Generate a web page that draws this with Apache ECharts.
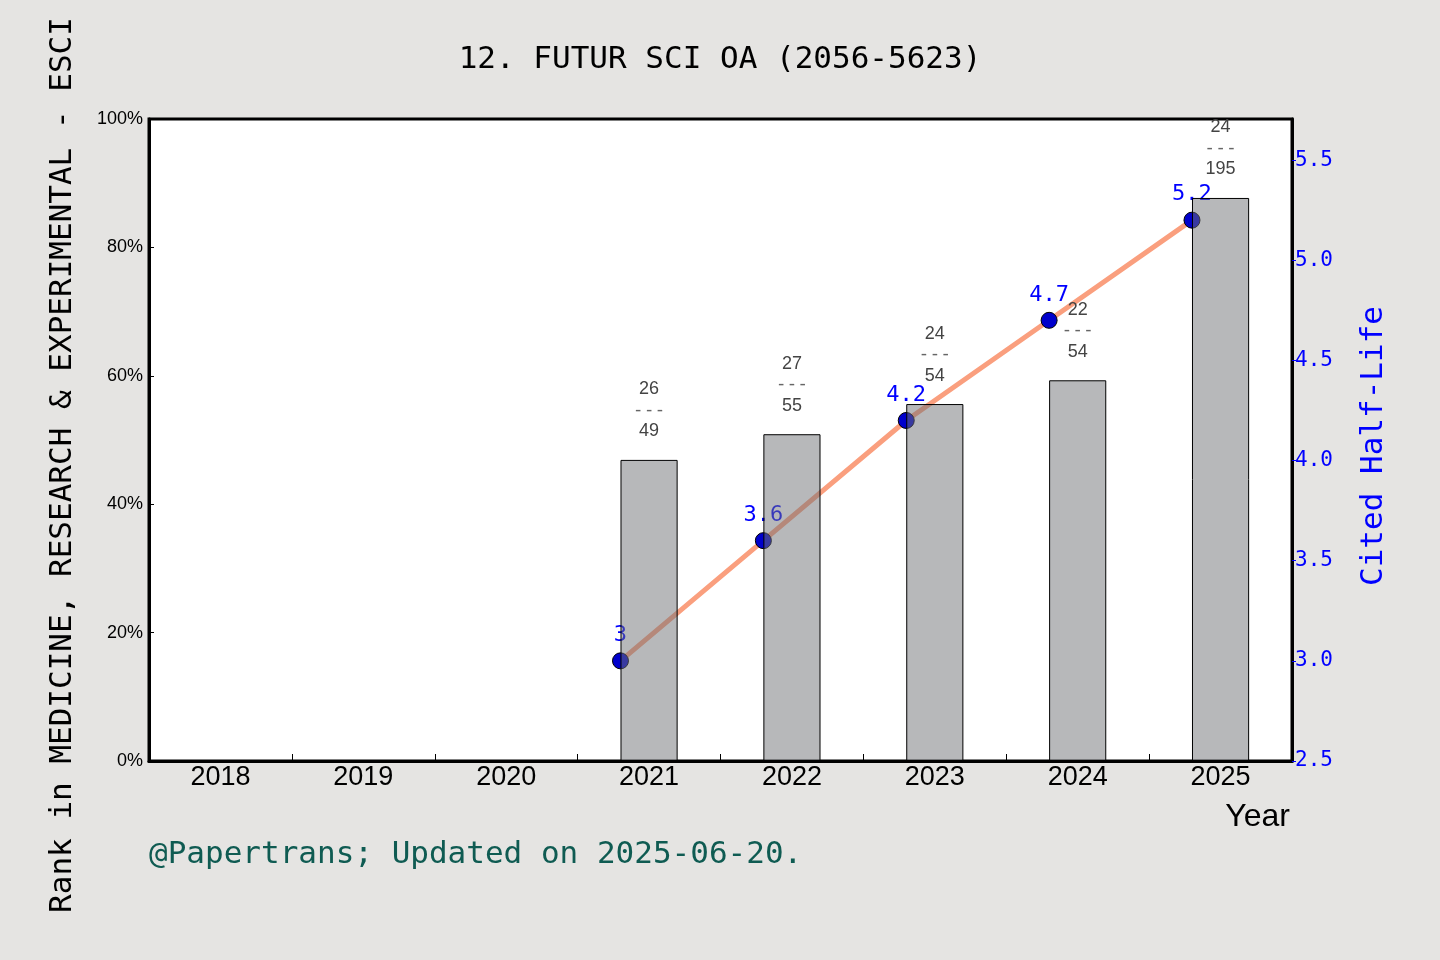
<!DOCTYPE html>
<html lang="en">
<head>
    <meta charset="utf-8">
    <title>ECharts</title>
    <script src="https://cdn.jsdelivr.net/npm/echarts@6/dist/echarts.min.js"></script>
    <style>
        html, body { margin: 0; padding: 0; background: #e5e4e2; }
    </style>
</head>
<body>
<div id="main" style="width:1440px;height:960px;"></div>
<script type="text/javascript">
    // 数据
    var years = ['2018', '2019', '2020', '2021', '2022', '2023', '2024', '2025'];
    var rankPct = [null, null, null, 46.9, 50.9, 55.6, 59.3, 87.7];
    var rankNo = [null, null, null, 26, 27, 24, 22, 24];
    var rankTotal = [null, null, null, 49, 55, 54, 54, 195];
    var halfLife = [null, null, null, 3, 3.6, 4.2, 4.7, 5.2];

    var barFrac = 0.4;   // 柱宽占类目宽度
    var mono = '"DejaVu Sans Mono", monospace';
    var sans = '"Liberation Sans", Arial, sans-serif';

    // 折线点落在柱子左边缘
    var lineData = [];
    halfLife.forEach(function (v, i) {
        if (v != null) lineData.push([i - barFrac / 2, v]);
    });

    var myChart = echarts.init(document.getElementById('main'));
    myChart.setOption({
        backgroundColor: '#e5e4e2',
        animation: false,
        title: {
            text: '12. FUTUR SCI OA (2056-5623)',
            left: 'center',
            top: 39,
            textStyle: {
                color: '#000000',
                fontFamily: mono,
                fontWeight: 'normal',
                fontSize: 31
            }
        },
        grid: {
            left: 149,
            right: 148,
            top: 119,
            bottom: 199,
            show: true,
            backgroundColor: '#ffffff',
            borderColor: '#000000',
            borderWidth: 3
        },
        xAxis: [
            {
                type: 'category',
                data: years,
                name: 'Year',
                nameLocation: 'end',
                nameGap: 0,
                nameTextStyle: {
                    fontFamily: sans,
                    fontSize: 32,
                    color: '#000000',
                    align: 'right',
                    verticalAlign: 'top',
                    padding: [40, 2, 0, 0]
                },
                axisLine: { onZero: false, lineStyle: { color: '#000000', width: 3 } },
                axisTick: { show: true, inside: true, length: 7, lineStyle: { color: '#000000', width: 1 } },
                axisLabel: { fontFamily: sans, fontSize: 27, color: '#000000', margin: 3 },
                splitLine: { show: false }
            },
            {
                type: 'value',
                min: -0.5,
                max: 7.5,
                show: false
            }
        ],
        yAxis: [
            {
                type: 'value',
                min: 0,
                max: 100,
                interval: 20,
                position: 'left',
                axisLine: { show: true, onZero: false, lineStyle: { color: '#000000', width: 3 } },
                axisTick: { show: true, inside: true, length: 5, lineStyle: { color: '#000000', width: 1 } },
                axisLabel: {
                    fontFamily: sans, fontSize: 18, color: '#000000', margin: 6,
                    formatter: '{value}%'
                },
                splitLine: { show: false }
            },
            {
                type: 'value',
                min: 2.5,
                max: 5.705,
                interval: 0.5,
                position: 'right',
                axisLine: { show: true, onZero: false, lineStyle: { color: '#000000', width: 3 } },
                axisTick: { show: true, length: 4, lineStyle: { color: '#0000ff', width: 1 } },
                axisLabel: {
                    fontFamily: mono, fontSize: 21, color: '#0000ff', margin: 3,
                    showMaxLabel: false,
                    formatter: function (v) { return v.toFixed(1); }
                },
                splitLine: { show: false }
            }
        ],
        graphic: [
            {
                type: 'text',
                x: 63,
                y: 465,
                rotation: Math.PI / 2,
                style: {
                    text: 'Rank in MEDICINE, RESEARCH & EXPERIMENTAL - ESCI',
                    fontFamily: mono,
                    fontSize: 31,
                    fill: '#000000',
                    textAlign: 'center',
                    textVerticalAlign: 'middle'
                }
            },
            {
                type: 'text',
                x: 1374,
                y: 446,
                rotation: Math.PI / 2,
                style: {
                    text: 'Cited Half-Life',
                    fontFamily: mono,
                    fontSize: 31,
                    fill: '#0000ff',
                    textAlign: 'center',
                    textVerticalAlign: 'middle'
                }
            },
            {
                type: 'text',
                x: 149,
                y: 855,
                style: {
                    text: '@Papertrans; Updated on 2025-06-20.',
                    fontFamily: mono,
                    fontSize: 31,
                    fill: '#0f5b52',
                    textAlign: 'left',
                    textVerticalAlign: 'middle'
                }
            }
        ],
        series: [
            {
                name: 'Cited Half-Life',
                type: 'line',
                xAxisIndex: 1,
                yAxisIndex: 1,
                data: lineData,
                z: 2,
                symbol: 'circle',
                symbolSize: 16,
                lineStyle: { color: '#fa9f7e', width: 5 },
                itemStyle: { color: '#0000cc', borderColor: '#000000', borderWidth: 1 },
                label: {
                    show: true,
                    position: 'top',
                    distance: 6,
                    fontFamily: mono,
                    fontSize: 22,
                    color: '#0000ff',
                    formatter: function (p) { return p.value[1]; }
                }
            },
            {
                name: 'Rank',
                type: 'bar',
                xAxisIndex: 0,
                yAxisIndex: 0,
                data: rankPct,
                z: 5,
                barWidth: (barFrac * 100) + '%',
                itemStyle: {
                    color: 'rgba(112,114,117,0.5)',
                    borderColor: '#000000',
                    borderWidth: 1
                },
                label: {
                    show: true,
                    position: 'top',
                    distance: 18,
                    color: '#444444',
                    formatter: function (p) {
                        var i = p.dataIndex;
                        return '{n|' + rankNo[i] + '}\n{d|---}\n{n|' + rankTotal[i] + '}';
                    },
                    rich: {
                        n: { fontFamily: sans, fontSize: 18, lineHeight: 21, color: '#444444' },
                        d: { fontFamily: mono, fontSize: 18, lineHeight: 21, color: '#666666' }
                    }
                }
            }
        ]
    });
</script>
</body>
</html>
